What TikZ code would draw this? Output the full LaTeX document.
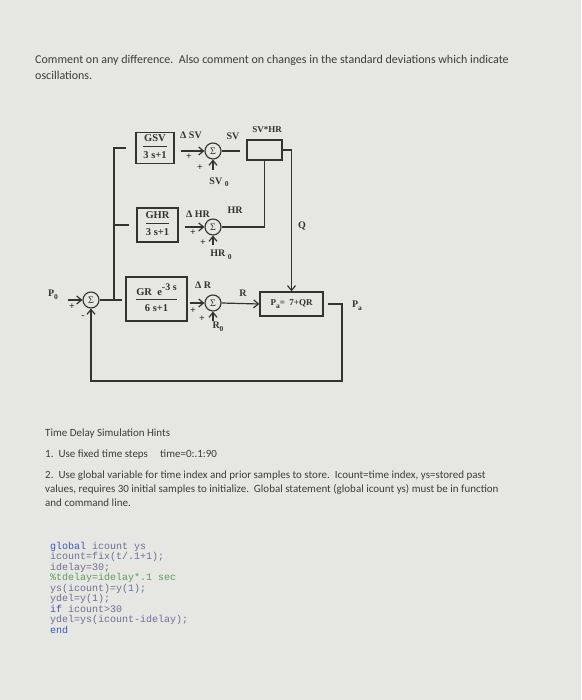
\documentclass[tikz,border=0pt]{standalone}
\usepackage{fontspec}
\setmainfont{Carlito}
\setmonofont{Liberation Mono}
\newfontfamily\blkfont{Liberation Serif}
\usepackage{xcolor}
\usepackage{tikz}
\usetikzlibrary{arrows.meta}
\definecolor{paper}{HTML}{E6E6E3}
\definecolor{inkc}{HTML}{333333}
\definecolor{txtc}{HTML}{3C3C3C}
\definecolor{codec}{HTML}{6E6E96}
\definecolor{keyc}{HTML}{3A58B8}
\definecolor{cmtc}{HTML}{5A9E5A}
\newcommand{\lsub}[1]{\raisebox{-2.5pt}{\fontsize{7.5}{7.5}\selectfont #1}}
\newcommand{\blkfrac}[2]{{\setlength\arrayrulewidth{1.1pt}\begin{tabular}{@{}c@{}}#1\\[1pt]\hline\rule{0pt}{11pt}#2\end{tabular}}}
\tikzset{
  ar/.style={-{Straight Barb[length=1.7mm,width=2.8mm]},line width=1.2pt,inkc},
  ln/.style={line width=1.2pt,inkc},
  blk/.style={draw=inkc,line width=1.3pt,align=center,inner sep=2pt,text=inkc,font=\blkfont\bfseries\fontsize{10.5}{10.5}\selectfont},
  sumc/.style={circle,draw=inkc,line width=1.1pt,minimum size=16pt,inner sep=0pt,text=inkc,font=\blkfont\fontsize{10}{10}\selectfont},
  lbl/.style={inner sep=0pt,text=inkc,font=\blkfont\bfseries\fontsize{10}{10}\selectfont},
  para/.style={anchor=base west,inner sep=0pt,text=txtc},
  code/.style={anchor=base west,inner sep=0pt,text=codec,font=\ttfamily\fontsize{10}{10}\selectfont}
}

\begin{document}
\begin{tikzpicture}[x=1pt,y=-1pt]
\fill[paper] (0,0) rectangle (581,700);
\useasboundingbox (0,0) rectangle (581,700);
% question
\node[para,font=\fontsize{12}{12}\selectfont] (q1) at (35,64) {Comment on any difference.\ \ Also comment on changes in the standard deviations which indicate};
\node[para,font=\fontsize{12}{12}\selectfont] (q2) at (35,80) {oscillations.};
% blocks
\node[blk,minimum width=38,minimum height=28] (gsv) at (155,148) {\blkfrac{GSV}{3 s+1}};
\node[blk,minimum width=41,minimum height=34] (ghr) at (157.5,225) {\blkfrac{GHR}{3 s+1}};
\node[blk,minimum width=61,minimum height=44] (gr) at (156.5,299) {\blkfrac{GR\ \ e\raisebox{5pt}{\fontsize{10}{10}\selectfont -3 s}}{6 s+1}};
\node[blk,minimum width=35,minimum height=20] (svhr) at (264.5,150) {};
\node[blk,minimum width=63,minimum height=24,font=\blkfont\bfseries\fontsize{9}{9}\selectfont] (pa) at (291.5,304) {P\lsub{a}=\ \ 7+QR};
% summing junctions
\node[sumc] (sumsv) at (213,151) {Σ};
\node[sumc] (sumhr) at (213,227) {Σ};
\node[sumc] (sump) at (91,300) {Σ};
\node[sumc] (sumr) at (213,303) {Σ};
\coordinate (sv0) at (213,170);
\coordinate (hr0) at (213,245);
\coordinate (r0) at (213,321);
\coordinate (p0) at (68,300);
\coordinate (jn) at (114,300);
\coordinate (pb) at (342,381);
% connectors
\draw[ar,shorten <=6pt] (gsv.east |- sumsv) -- (sumsv);
\draw[ar,shorten <=6pt] (ghr.east |- sumhr) -- (sumhr);
\draw[ar,shorten <=2pt] (gr.east |- sumr) -- (sumr);
\draw[ar] (sv0) -- (sumsv.south);
\draw[ar] (hr0) -- (sumhr.south);
\draw[ar] (r0) -- (sumr.south);
\draw[ar] (p0) -- (sump.west);
\draw[ln,shorten >=6pt] (sumsv.east) -- (sumsv.east -| svhr.west);
\draw[ln] (sumhr.east) -| (svhr.south);
\draw[ar] (svhr.east) -| (pa.north);
\draw[ar] (sumr.east) -- (pa.west);
\draw[ln,shorten >=3pt] (sump.east) -- (gr.west |- sump);
\draw[ln,shorten >=9pt] (jn) |- (gsv.west);
\draw[ln,shorten >=7pt] (jn |- ghr) -- (ghr.west);
\draw[ln] (jn) -- (jn |- ghr);
\draw[ar,shorten <=4pt] (pa.east) -| (pb) -| (sump.south);
% labels
\node[lbl] (lsv) at (191,135) {Δ SV};
\node[lbl] (lsvo) at (233,136) {SV};
\node[lbl,font=\blkfont\bfseries\fontsize{9}{9}\selectfont] (lsvhr) at (267,130) {SV*HR};
\node[lbl] (lsv0) at (219,182) {SV \lsub{0}};
\node[lbl] (psv1) at (189,157) {+};
\node[lbl] (psv2) at (200,168) {+};
\node[lbl] (lhr) at (198,214) {Δ HR};
\node[lbl] (lhro) at (235,210) {HR};
\node[lbl] (lhr0) at (221,255) {HR \lsub{0}};
\node[lbl] (phr1) at (193,233) {+};
\node[lbl] (phr2) at (203,243) {+};
\node[lbl] (lq) at (302,226) {Q};
\node[lbl] (lp0) at (53,295) {P\lsub{0}};
\node[lbl] (pp1) at (72,307) {+};
\node[lbl] (pp2) at (83,317) {-};
\node[lbl] (lr) at (203,285) {Δ R};
\node[lbl] (lro) at (243,293) {R};
\node[lbl] (lr0) at (218,327) {R\lsub{0}};
\node[lbl] (pr1) at (193,311) {+};
\node[lbl] (pr2) at (202,319) {+};
\node[lbl] (lpa) at (357,306) {P\lsub{a}};
% hints
\node[para,font=\fontsize{11}{11}\selectfont] (h0) at (45,436) {Time Delay Simulation Hints};
\node[para,font=\fontsize{11}{11}\selectfont] (h1) at (45,457) {1.\ \ Use fixed time steps};
\node[para,font=\fontsize{11}{11}\selectfont] (h1b) at (160,457) {time=0:.1:90};
\node[para,font=\fontsize{11}{11}\selectfont] (h2) at (45,478) {2.\ \ Use global variable for time index and prior samples to store.\ \ Icount=time index, ys=stored past};
\node[para,font=\fontsize{11}{11}\selectfont] (h3) at (45,492) {values, requires 30 initial samples to initialize.\ \ Global statement (global icount ys) must be in function};
\node[para,font=\fontsize{11}{11}\selectfont] (h4) at (45,506) {and command line.};
% code
\node[code] (c1) at (50,549) {\textcolor{keyc}{global} icount ys};
\node[code] (c2) at (50,559.5) {icount=fix(t/.1+1);};
\node[code] (c3) at (50,570) {idelay=30;};
\node[code,text=cmtc] (c4) at (50,580.5) {\%tdelay=idelay*.1 sec};
\node[code] (c5) at (50,591) {ys(icount)=y(1);};
\node[code] (c6) at (50,601.5) {ydel=y(1);};
\node[code] (c7) at (50,612) {\textcolor{keyc}{if} icount>30};
\node[code] (c8) at (50,622.5) {ydel=ys(icount-idelay);};
\node[code] (c9) at (50,633) {\textcolor{keyc}{end}};
\end{tikzpicture}
\end{document}
